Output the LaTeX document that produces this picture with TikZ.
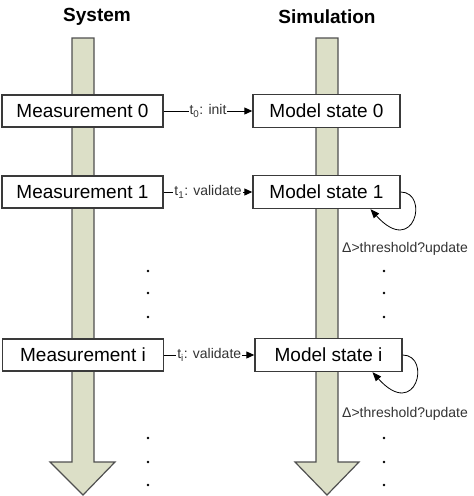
\documentclass[tikz,border=0pt]{standalone}
\usepackage{fontspec}
\setmainfont{Liberation Sans}
\usetikzlibrary{arrows.meta}

\definecolor{shaftfill}{HTML}{DCDFC7}
\definecolor{shaftline}{HTML}{505050}
\definecolor{boxline}{HTML}{3A3A3A}
\definecolor{labeltext}{HTML}{333333}

\tikzset{
	timearrow/.style={draw=shaftline, line width=1.2pt, fill=shaftfill},
	statebox/.style={rectangle, draw=boxline, line width=1.4pt, fill=white,
		minimum width=147pt, minimum height=33pt, inner sep=0pt,
		font=\fontsize{19}{22}\selectfont},
	measbox/.style={statebox, minimum width=161pt, minimum height=32pt},
	title/.style={font=\fontsize{19}{22}\selectfont\bfseries},
	tlabel/.style={font=\fontsize{14}{16}\selectfont, text=labeltext, fill=white, inner sep=1pt},
	flow/.style={-{Triangle[length=8pt,width=7pt]}, line width=1pt},
	loopback/.style={-{Triangle[length=9pt,width=7pt]}, line width=0.8pt},
}

\begin{document}
\begin{tikzpicture}[x=1pt,y=-1pt]
	\useasboundingbox (0,0) rectangle (474,496);
	
		\node[title] (sys) at (97,17) {System};
		\node[title] (sim) at (327,17) {Simulation};
		
		% time axes
		\draw[timearrow] (72,38) -- (94,38) -- (94,462) -- (115,462) -- (83,495)
			-- (50,462) -- (72,462) -- cycle;
		\draw[timearrow] (316,38) -- (338,38) -- (338,462) -- (359,462) -- (327,495)
			-- (295,462) -- (316,462) -- cycle;
		
		\node[measbox] (m0) at (82.5,111) {Measurement 0};
		\node[statebox] (s0) at (326.5,111) {Model state 0};
		\node[measbox] (m1) at (82.5,192) {Measurement 1};
		\node[statebox] (s1) at (326.5,192) {Model state 1};
		\node[measbox] (mi) at (83,355) {Measurement i};
		\node[statebox] (si) at (328.5,355) {Model state i};
		
		\draw[flow] (m0) -- node[tlabel] {t\textsubscript{0}: init} (s0);
		\draw[flow] (m1) -- node[tlabel] {t\textsubscript{1}: validate} (s1);
		\draw[flow] (mi) -- node[tlabel] {t\textsubscript{i}: validate} (si);
		
		% update loops
		\draw[loopback] (s1.east) .. controls +(29,0) and +(44,49) .. ([xshift=44pt]s1.south);
		\draw[loopback] (si.east) .. controls +(29,0) and +(44,49) .. ([xshift=44pt]si.south);
		\node[tlabel, fill=none, inner sep=0pt, anchor=west] (upd1) at (342,249) {Δ>threshold?update};
		\node[tlabel, fill=none, inner sep=0pt, anchor=west] (updi) at (342,414) {Δ>threshold?update};
		
		% dots
		\foreach \y in {271,293,317,438,462,485} {
			\fill (148,\y) circle (1.3pt);
			\fill (384,\y) circle (1.3pt);
		}
		
	\end{tikzpicture}
\end{document}
